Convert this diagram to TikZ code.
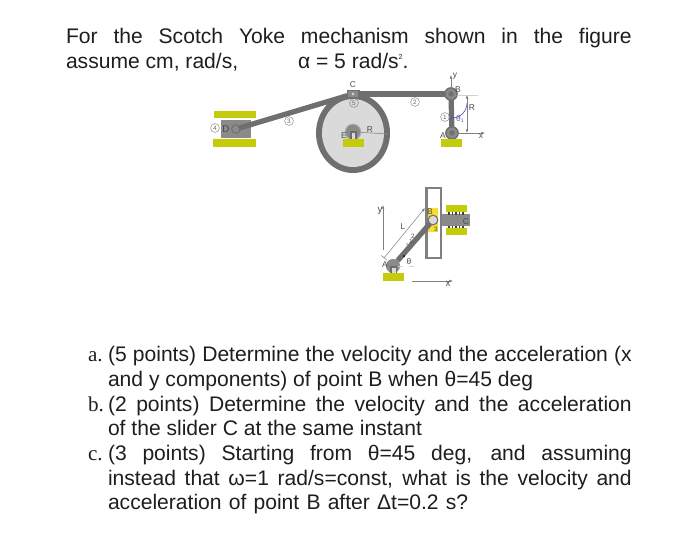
\documentclass[tikz,border=0pt]{standalone}
\usepackage{fontspec}
\setmainfont{Liberation Sans}
\newfontfamily\serifletter{Liberation Serif}
\usetikzlibrary{arrows.meta, calc, positioning}
\definecolor{barGrey}{HTML}{6F6F6F}
\definecolor{blockGrey}{HTML}{8A8A8A}
\definecolor{wheelLight}{HTML}{DADADA}
\definecolor{guideGreen}{HTML}{C3CB0A}
\definecolor{pinYellow}{HTML}{F7DC33}
\definecolor{angleBlue}{HTML}{5A5FB0}
\definecolor{inkGrey}{HTML}{1E1E1E}
\newcommand{\twopow}{\raisebox{0.75ex}{\fontsize{4}{4}\selectfont 2}}

\begin{document}
\begin{tikzpicture}[x=0.02cm,y=-0.02cm,>={Latex[length=2pt,width=1.6pt]},every node/.style={inner sep=0pt,outer sep=0pt,text=inkGrey}]
\tikzstyle{body}=[anchor=base west,font=\fontsize{12}{14}\selectfont]
\tikzstyle{letter}=[anchor=base west,font=\fontsize{12}{14}\serifletter]
\tikzstyle{guide}=[fill=guideGreen,draw=none]
\tikzstyle{bar}=[draw=barGrey,line width=3pt]
\tikzstyle{pin}=[circle,draw=barGrey,fill=blockGrey,line width=0.8pt,minimum size=7pt]
\tikzstyle{tag}=[font=\fontsize{4.8}{5}\selectfont,text=black!70]
\tikzstyle{num}=[circle,draw=gray,line width=0.25pt,minimum size=5pt,text=black!60,font=\fontsize{3.6}{4}\selectfont]
\tikzstyle{thinline}=[draw=gray,line width=0.3pt]
\tikzstyle{faint}=[draw=gray!35,line width=0.3pt]

\useasboundingbox (0,0) rectangle (700,558);

\node (lineA) [body] at (66,43) {\makebox[322pt][s]{For the Scotch Yoke mechanism shown in the figure}};
\node (lineB) [body] at (66,68) {assume cm, rad/s,};
\node (alpha) [body] at (298,68) {α = 5 rad/s\twopow.};

% upper mechanism
\fill [barGrey] (353,133) ellipse (37 and 40);
\fill [wheelLight] (353,133) ellipse (31 and 34);
\fill [guide] (214,111) rectangle (256,118);
\fill [guide] (213,139) rectangle (256,147);
\node (D) [fill=blockGrey,minimum width=17pt,minimum height=10.2pt] at (236,129) {};
\node (Dpin) [circle,draw=barGrey,fill=blockGrey,line width=0.5pt,minimum size=5pt] at (236,129) {};
\node (C) [fill=blockGrey,draw=barGrey,line width=0.6pt,minimum width=6.8pt,minimum height=4pt] at (353,94) {};
\node (B) [pin] at (451,94) {};
\node (A) [pin] at (452,133) {};
\draw [bar,shorten <=-1pt] (Dpin) -- (C);
\draw [bar] (C) -- (B);
\draw [bar] (B) -- (A);
\node (Cpin) [circle,fill=wheelLight,minimum size=1.6pt] at (C) {};
\node (Bpin) [circle,fill=barGrey,minimum size=3pt] at (B) {};
\node (Ainner) [circle,fill=barGrey,minimum size=3pt] at (A) {};
\fill [guide] (441,139) rectangle (462,147);
\node (hub) [circle,fill=blockGrey,draw=gray!60,line width=0.5pt,minimum size=9pt] at (353,132) {};
\fill [gray!85!black] (349.5,131) rectangle (356.5,141);
\fill [wheelLight] (351.5,133) rectangle (354.5,141);
\fill [guide] (343,139) rectangle (364,147);
\coordinate (rim) at (389,134);
\draw [thinline,->] (hub) -- (rim);

\node (labC) [tag] at (353,85) {C};
\node (labB) [tag] at (458,90) {B};
\node (labA) [tag] at (443,136) {A};
\node (labD) [tag,font=\fontsize{5.6}{6}\selectfont] at (226,129) {D};
\node (labE) [tag] at (344,136) {E};
\node (labR) [tag] at (370,130) {R};
\node (num1) [num] at (445,117) {1};
\node (num2) [num] at (415,102) {2};
\node (num3) [num] at (289,121) {3};
\node (num4) [num] at (215,128) {4};
\node (num5) [num] at (354,103) {5};

\coordinate (yTop) at (451,75);
\coordinate (xEnd) at (485,133);
\coordinate (xStart) at (457,133);
\coordinate (dimTop) at (467,95);
\coordinate (dimBot) at (467,133);
\coordinate (dashEnd) at (478,95);
\coordinate (dashStart) at (457,95);
\draw [thinline,->] (B) -- (yTop);
\draw [thinline,->] (xStart) -- (xEnd);
\draw [faint] (dashStart) -- (dashEnd);
\draw [thinline,<->] (dimTop) -- (dimBot);
\draw [angleBlue,line width=0.4pt] (452,118) arc (90:0:15);
\fill [angleBlue] (452,118) circle (1.6);
\node (yUp) [tag] at (455,76) {y};
\node (xUp) [tag] at (481,136) {x};
\node (rDim) [tag] at (472,108) {R};
\node (theta1) [tag,text=angleBlue] at (460,119) {θ\raisebox{-0.4ex}{\fontsize{3}{3}\selectfont 1}};

% yoke
\fill [blockGrey] (442,214) rectangle (470,226);
\fill [guide] (446,205) rectangle (467,212);
\fill [guide] (446,228) rectangle (467,235);
\foreach \tx in {449,452.5,456,459.5,463}{
  \draw [black!75,line width=0.8pt] (\tx,212) -- (\tx,214.5);
  \draw [black!75,line width=0.8pt] (\tx,225.5) -- (\tx,228);
}
\fill [pinYellow] (428,208) rectangle (438,232);
\draw [draw=gray,line width=1.5pt] (426.5,188) rectangle (441,258);
\node (P) [circle,draw=barGrey,fill=wheelLight,line width=0.6pt,minimum size=5.5pt] at (433,220) {};
\node (Alow) [circle,fill=blockGrey,minimum size=8pt] at (393,266) {};
\draw [bar] (Alow) -- (P);
\fill [gray!85!black] (390,266) rectangle (397,274);
\fill [wheelLight] (391.5,268) rectangle (395.5,274);
\fill [guide] (383,273) rectangle (404,281);
\node (labCr) [tag] at (466,222) {C};
\node (labPr) [tag] at (430,212) {B};
\node (num3r) [tag,font=\fontsize{3.6}{4}\selectfont] at (436,229) {3};
\node (labAr) [tag] at (385,265) {A};
\node (labL) [tag] at (403,227) {L};
\node (labTh) [tag] at (409,261) {θ};
\node (num1r) [tag,font=\fontsize{3.6}{4}\selectfont] at (411,241) {1};
\node (num2r) [tag,font=\fontsize{3.6}{4}\selectfont] at (413,236) {2};
\fill [black] (404,256) circle (1);
\fill [black] (407,244) circle (0.7);

\coordinate (lA) at (384,258);
\coordinate (lB) at (425,208);
\coordinate (yLowA) at (383,250);
\coordinate (yLowB) at (383,205);
\coordinate (xLowA) at (412,281);
\coordinate (xLowB) at (453,281);
\coordinate (thA) at (398,266);
\coordinate (thB) at (417,266);
\draw [thinline,|->] (lA) -- (lB);
\draw [thinline,->] (yLowA) -- (yLowB);
\draw [thinline,->] (xLowA) -- (xLowB);
\draw [faint,dashed] (thA) -- (thB);
\node (yLow) [tag,font=\fontsize{5.6}{6}\selectfont] at (380,211) {y};
\node (xLow) [tag,font=\fontsize{5.6}{6}\selectfont] at (448,284) {x};

% questions
\node (qa) [letter] at (88,361) {a.};
\node (qaOne) [body] at (108,361) {\makebox[298.1pt][s]{(5 points) Determine the velocity and the acceleration (x}};
\node (qaTwo) [body] at (108,386) {\makebox[242pt][s]{and y components) of point B when θ=45 deg}};
\node (qb) [letter] at (88,411) {b.};
\node (qbOne) [body] at (108,411) {\makebox[298.1pt][s]{(2 points) Determine the velocity and the acceleration}};
\node (qbTwo) [body] at (108,435) {of the slider C at the same instant};
\node (qc) [letter] at (88,460) {c.};
\node (qcOne) [body] at (108,460) {\makebox[298.1pt][s]{(3 points) Starting from θ=45 deg, and assuming}};
\node (qcTwo) [body] at (108,485) {\makebox[298.1pt][s]{instead that ω=1 rad/s=const, what is the velocity and}};
\node (qcThree) [body] at (108,509) {\makebox[205pt][s]{acceleration of point B after Δt=0.2 s?}};
\end{tikzpicture}
\end{document}
